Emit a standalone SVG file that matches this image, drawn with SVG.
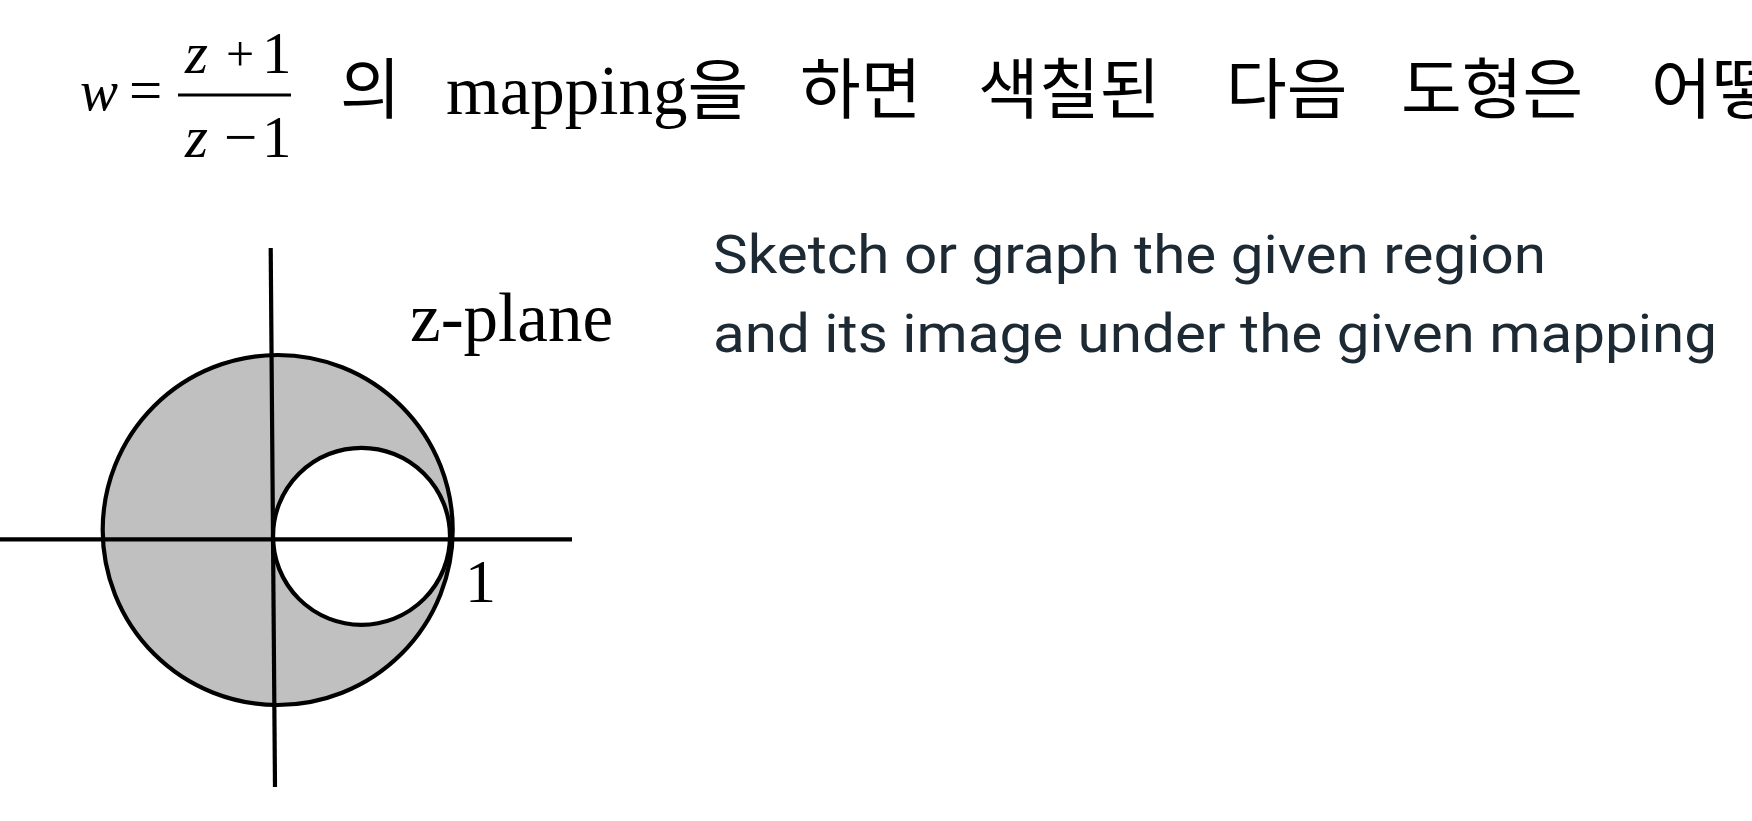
<svg xmlns="http://www.w3.org/2000/svg" width="1752" height="821" viewBox="0 0 1752 821">
<style>
.serif{font-family:"Liberation Serif","Noto Sans CJK KR",serif;fill:#000}
.it{font-style:italic}
.ko{font-family:"Liberation Serif","Noto Sans CJK KR",serif;font-size:66px;fill:#000}
.sans{font-family:Roboto,"Liberation Sans",sans-serif;font-size:53px;fill:#1d2a33}
.ln{stroke:#000;stroke-width:4.2;fill:none}
.shade{stroke:#000;stroke-width:4.2;fill:#c0c0c0}
.hole{stroke:#000;stroke-width:4.2;fill:#fff}
</style>
<rect width="1752" height="821" fill="#fff"/>
<g id="title">
  <text class="serif it" x="80" y="110" font-size="57">w</text>
  <text class="serif" x="129" y="110" font-size="59">=</text>
  <line x1="178" y1="95" x2="291" y2="95" stroke="#000" stroke-width="3"/>
  <text class="serif it" x="185" y="73" font-size="59">z</text>
  <text class="serif" x="226" y="71" font-size="50">+</text>
  <text class="serif" x="262" y="73" font-size="59">1</text>
  <text class="serif it" x="185" y="157" font-size="59">z</text>
  <text class="serif" x="224" y="157" font-size="59">−</text>
  <text class="serif" x="262" y="157" font-size="59">1</text>
  <text class="ko" x="340" y="113">의</text>
  <text class="serif" x="446" y="114" font-size="69">mapping<tspan class="ko">을</tspan></text>
  <text class="ko" x="800" y="113">하면</text>
  <text class="ko" x="978" y="113">색칠된</text>
  <text class="ko" x="1226" y="113">다음</text>
  <text class="ko" x="1401" y="113">도형은</text>
  <text class="ko" x="1651" y="113">어떻</text>
</g>
<g id="region">
  <circle cx="277.7" cy="530" r="175" class="shade"/>
  <circle cx="361.5" cy="536.3" r="88.5" class="hole"/>
</g>
<g id="axes">
  <line class="ln" x1="0" y1="539.3" x2="572" y2="539.3"/>
  <line class="ln" x1="270.7" y1="248" x2="275" y2="787"/>
</g>
<g id="labels">
  <text class="serif" x="410" y="341" font-size="69">z-plane</text>
  <text class="serif" x="465" y="602" font-size="62">1</text>
</g>
<g id="instructions">
  <text class="sans" x="713" y="273" textLength="833" lengthAdjust="spacingAndGlyphs">Sketch or graph the given region</text>
  <text class="sans" x="713" y="352" textLength="1004" lengthAdjust="spacingAndGlyphs">and its image under the given mapping</text>
</g>
</svg>
